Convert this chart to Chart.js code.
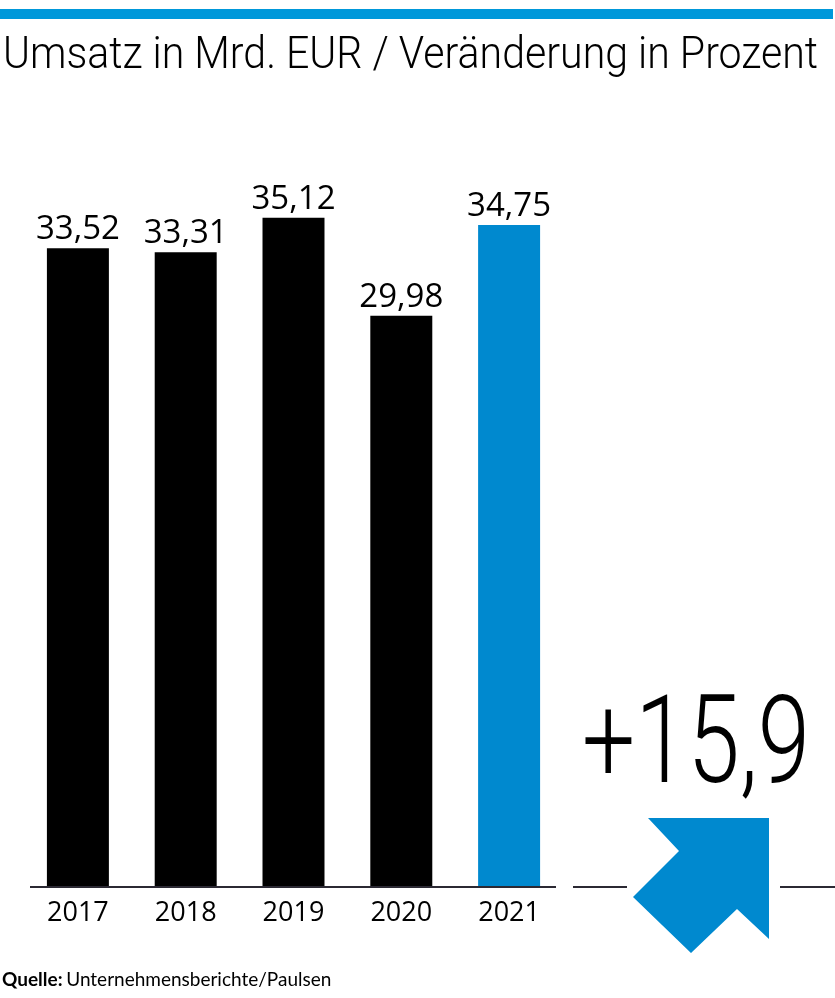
<!DOCTYPE html>
<html>
<head>
<meta charset="utf-8">
<script src="https://cdn.jsdelivr.net/npm/chart.js@4/dist/chart.umd.min.js"></script>
<style>
  html, body { margin: 0; padding: 0; background: #fff; }
  #wrap { width: 835px; height: 998px; position: relative; }
</style>
</head>
<body>
<div id="wrap"><canvas id="c" width="835" height="998"></canvas></div>
<script>
// ---- data ----
const categories = ['2017', '2018', '2019', '2020', '2021'];
const revenue = [33.52, 33.31, 35.12, 29.98, 34.75];
const changePercent = 15.9;
const titleText = 'Umsatz in Mrd. EUR / Veränderung in Prozent';
const sourceLabel = 'Quelle:';
const sourceText = 'Unternehmensberichte/Paulsen';

// ---- style ----
const BLUE = '#0089cf';
const TOPBAR = '#0098da';
const INK = '#000000';
const AXIS = '#2b2933';
const highlightIndex = categories.length - 1;

const fmt2 = v => v.toLocaleString('de-DE', { minimumFractionDigits: 2, maximumFractionDigits: 2 });
const fmt1 = v => (v >= 0 ? '+' : '') + v.toLocaleString('de-DE', { minimumFractionDigits: 1, maximumFractionDigits: 1 });

const decorPlugin = {
  id: 'decor',
  beforeDraw(chart) {
    const ctx = chart.ctx;
    ctx.save();
    ctx.fillStyle = '#fff';
    ctx.fillRect(0, 0, chart.width, chart.height);
    // top bar
    ctx.fillStyle = TOPBAR;
    ctx.fillRect(0, 9, 833, 10);
    // title (light, slightly condensed)
    ctx.fillStyle = INK;
    ctx.font = '300 45px Roboto';
    ctx.textBaseline = 'alphabetic';
    ctx.textAlign = 'left';
    const w = ctx.measureText(titleText).width;
    const target = 815;
    ctx.translate(3, 68);
    ctx.scale(target / w, 1);
    ctx.fillText(titleText, 0, 0);
    ctx.restore();

    // source line
    ctx.save();
    ctx.fillStyle = INK;
    ctx.textBaseline = 'alphabetic';
    ctx.font = 'bold 19px Lato';
    ctx.fillText(sourceLabel, 2, 986);
    const lw = ctx.measureText(sourceLabel + ' ').width;
    ctx.font = '19px Lato';
    ctx.fillText(sourceText, 2 + lw - 1, 986);
    ctx.restore();
  },
  afterDatasetsDraw(chart) {
    const ctx = chart.ctx;
    const area = chart.chartArea;
    const base = chart.scales.y.getPixelForValue(0);
    ctx.save();
    // axis line
    ctx.strokeStyle = AXIS;
    ctx.lineWidth = 2;
    ctx.beginPath();
    ctx.moveTo(area.left + 6, base + 1);
    ctx.lineTo(area.right - 7, base + 1);
    // side dashes
    ctx.moveTo(573, base + 1);
    ctx.lineTo(627, base + 1);
    ctx.moveTo(780, base + 1);
    ctx.lineTo(835, base + 1);
    ctx.stroke();

    // value labels
    const meta = chart.getDatasetMeta(0);
    ctx.fillStyle = INK;
    ctx.font = '33px "Open Sans"';
    ctx.textAlign = 'center';
    ctx.textBaseline = 'alphabetic';
    meta.data.forEach((bar, i) => {
      ctx.fillText(fmt2(revenue[i]), bar.x, bar.y - 9);
    });

    // change arrow
    const cx = 703, cy = base;
    const pts = [[-55,-68],[66,-68],[66,53],[34,23],[-12,67],[-70,11],[-24,-35]];
    ctx.fillStyle = BLUE;
    ctx.beginPath();
    pts.forEach((p, k) => k ? ctx.lineTo(cx + p[0], cy + p[1]) : ctx.moveTo(cx + p[0], cy + p[1]));
    ctx.closePath();
    ctx.fill();

    // change value
    ctx.fillStyle = INK;
    ctx.font = '300 122px Roboto';
    ctx.textAlign = 'left';
    const t = fmt1(changePercent);
    const tw = ctx.measureText(t).width;
    ctx.save();
    ctx.translate(582, base - 104);
    ctx.scale(228 / tw, 1);
    ctx.fillText(t, 0, 0);
    ctx.restore();
    ctx.restore();
  }
};

new Chart(document.getElementById('c'), {
  type: 'bar',
  data: {
    labels: categories,
    datasets: [{
      data: revenue,
      backgroundColor: ctx => ctx.dataIndex === highlightIndex ? BLUE : INK,
      borderWidth: 0,
      barPercentage: 0.575,
      categoryPercentage: 1
    }]
  },
  options: {
    responsive: false,
    animation: false,
    devicePixelRatio: 1,
    layout: { padding: { left: 24, right: 272, top: 125, bottom: 52 } },
    plugins: { legend: { display: false }, tooltip: { enabled: false }, title: { display: false } },
    scales: {
      y: { display: false, min: 0, max: 40 },
      x: {
        grid: { display: false, drawTicks: false },
        border: { display: false },
        ticks: { color: INK, font: { family: 'Open Sans', size: 27 }, padding: 11, maxRotation: 0 },
        afterFit: s => { s.height = 60; }
      }
    }
  },
  plugins: [decorPlugin]
});
</script>
</body>
</html>
